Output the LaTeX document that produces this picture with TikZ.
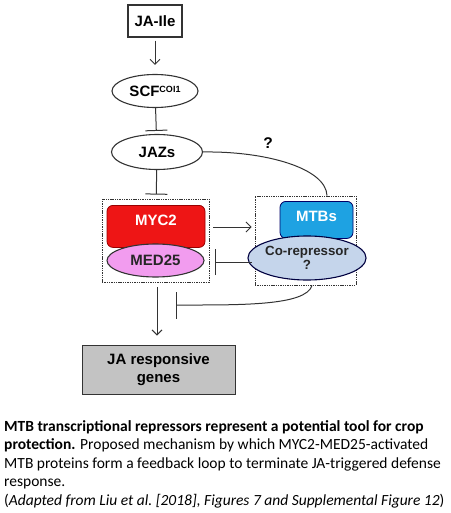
\documentclass[tikz,border=0pt]{standalone}
\usepackage{fontspec}
\setmainfont{Liberation Sans}
\newfontfamily\capfont{Carlito}
\usetikzlibrary{shapes.geometric,arrows.meta}
\definecolor{lnc}{HTML}{333333}
\definecolor{mycred}{HTML}{EE1515}
\definecolor{medpink}{HTML}{F29CEF}
\definecolor{mtbblue}{HTML}{1EA2E2}
\definecolor{corepc}{HTML}{C5D5EB}
\definecolor{genesg}{HTML}{C3C3C3}
\tikzset{
  lbl/.style={font=\fontsize{15}{16}\selectfont\bfseries},
  ell/.style={ellipse, draw=lnc, line width=1.1pt, inner sep=0pt, lbl},
  dbox/.style={draw=lnc, dash pattern=on 1.4pt off 0.9pt, line width=0.8pt, rectangle, inner sep=0pt},
  conn/.style={draw=lnc, line width=1pt},
  act/.style={conn, -{Straight Barb[length=5pt,width=10pt,line width=0.9pt]}},
  inh/.style={conn, -{Bar[width=22pt,line width=1pt]}},
}
\begin{document}
\begin{tikzpicture}[x=1pt,y=-1pt]
\useasboundingbox (0,0) rectangle (450,513);
% nodes
\node[draw=lnc, line width=1.1pt, minimum width=54pt, minimum height=32pt, inner sep=0pt, lbl] (jaile) at (155,21) {JA-Ile};
\node[ell, minimum width=86pt, minimum height=33pt] (scf) at (155,91) {SCF\raisebox{0.45ex}{\fontsize{9}{10}\selectfont COI1}};
\node[ell, minimum width=91pt, minimum height=35pt] (jazs) at (157,152) {JAZs};
\node[dbox, minimum width=107pt, minimum height=83pt] (lbox) at (155.5,240.5) {};
\node[rectangle, rounded corners=6pt, draw=red!60!black, fill=mycred, line width=0.8pt, minimum width=98pt, minimum height=42pt, inner sep=0pt, lbl, text=white, anchor=north] (myc) at (156,205) {\raisebox{1.5ex}{MYC2}};
\node[ell, fill=medpink, draw=black!80, minimum width=97pt, minimum height=33pt, text=black!85] (med) at (155.5,260.5) {MED25};
\node[dbox, minimum width=101pt, minimum height=89pt] (rbox) at (305.5,240.5) {};
\node[rectangle, rounded corners=6pt, draw=blue!40!black, fill=mtbblue, line width=0.8pt, minimum width=73pt, minimum height=37pt, inner sep=0pt, lbl, text=white, anchor=north] (mtbs) at (316.5,201) {\raisebox{0.8ex}{MTBs}};
\node[ell, fill=corepc, draw=blue!25!black, minimum width=98pt, minimum height=44pt, align=center, font=\fontsize{13.3}{14}\selectfont\bfseries, text=black!85] (corep) at (307,258) {Co-repressor\\?};
\node[draw=lnc, line width=1pt, fill=genesg, minimum width=153pt, minimum height=49pt, inner sep=0pt, align=center, font=\fontsize{15}{18}\selectfont\bfseries] (genes) at (158.5,369.5) {JA responsive\\genes};
\node[lbl, font=\fontsize{15.5}{16}\selectfont\bfseries] (q) at (268,143) {?};
\coordinate (fbend) at (176,305);
% connectors
\draw[act, shorten <=3pt, shorten >=9pt] (jaile) -- (scf);
\draw[inh, shorten >=3pt] (scf) -- (jazs);
\draw[inh, shorten >=4pt] (jazs) -- (lbox);
\draw[act, shorten <=4pt, shorten >=3pt] (lbox.east |- 0,227) -- (rbox.west |- 0,227);
\draw[conn, -{Bar[width=26pt,line width=1pt]}, shorten <=3pt, shorten >=6pt] (rbox.west |- 0,262) -- (lbox.east |- 0,262);
\draw[conn] (jazs.east) .. controls (265,151) and (326,168) .. (rbox.north -| 327,0);
\draw[conn, -{Bar[width=27pt,line width=1pt]}] (rbox.south -| 312,0) .. controls (306,306) and (240,305) .. (fbend);
\draw[act, shorten <=5pt, shorten >=9pt] (lbox.south -| 157,0) -- (genes.north -| 157,0);
% caption
\node[anchor=north west, inner sep=0pt, align=left, font=\capfont\fontsize{15.5}{18.5}\selectfont] (cap) at (4,420) {%
\textbf{MTB transcriptional repressors represent a potential tool for crop}\\
\textbf{protection.} Proposed mechanism by which MYC2-MED25-activated\\
MTB proteins form a feedback loop to terminate JA-triggered defense\\
response.\\
(\textit{Adapted from Liu et al.\ [2018], Figures 7 and Supplemental Figure 12})};
\end{tikzpicture}
\end{document}
